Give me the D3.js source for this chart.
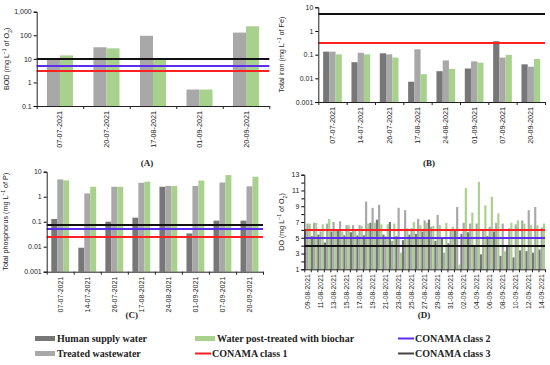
<!DOCTYPE html>
<html>
<head>
<meta charset="utf-8">
<script src="https://cdn.jsdelivr.net/npm/d3@7"></script>
<style>
  body { margin: 0; background: #fff; }
  svg { display: block; }
  .tick text { font-family: "Liberation Sans", Arial, sans-serif; fill: #222; }
</style>
</head>
<body>
<svg id="chart" width="550" height="365"></svg>
<script>
// ---- data ----
var bodDates = ["07-07-2021", "20-07-2021", "17-08-2021", "01-09-2021", "20-09-2021"];
var bodWastewater = [9.6, 31, 95, 0.5, 130];
var bodBiochar = [14, 28, 9.8, 0.5, 240];
var bodLimits = [3, 5, 10]; // class 1, 2, 3

var ironDates = ["07-07-2021", "14-07-2021", "26-07-2021", "17-08-2021", "24-08-2021", "01-09-2021", "07-09-2021", "20-09-2021"];
var ironSupply = [0.134, 0.048, 0.114, 0.0072, 0.020, 0.026, 0.37, 0.039];
var ironWastewater = [0.134, 0.12, 0.103, 0.168, 0.057, 0.052, 0.075, 0.031];
var ironBiochar = [0.103, 0.103, 0.075, 0.015, 0.025, 0.046, 0.098, 0.066];
var ironLimits = [0.3, 0.3, 5];

var phosDates = ["07-07-2021", "14-07-2021", "26-07-2021", "17-08-2021", "24-08-2021", "01-09-2021", "07-09-2021", "20-09-2021"];
var phosSupply = [0.128, 0.0091, 0.1, 0.145, 2.5, 0.034, 0.11, 0.11];
var phosWastewater = [4.9, 1.35, 2.5, 3.6, 2.7, 2.7, 3.7, 2.6];
var phosBiochar = [4.5, 2.5, 2.5, 4.0, 2.7, 4.4, 7.3, 6.3];
var phosLimits = [0.025, 0.05, 0.075];

var doDates = ["09-08-2021", "10-08-2021", "11-08-2021", "12-08-2021", "13-08-2021", "14-08-2021", "15-08-2021",
  "16-08-2021", "17-08-2021", "18-08-2021", "19-08-2021", "20-08-2021", "21-08-2021", "22-08-2021", "23-08-2021",
  "24-08-2021", "25-08-2021", "26-08-2021", "27-08-2021", "28-08-2021", "29-08-2021", "30-08-2021", "31-08-2021",
  "01-09-2021", "02-09-2021", "03-09-2021", "04-09-2021", "05-09-2021", "06-09-2021", "07-09-2021", "08-09-2021",
  "09-09-2021", "10-09-2021", "11-09-2021", "12-09-2021", "13-09-2021", "14-09-2021"];
var doSupply = [5.9, 5.2, 5.4, 4.4, 5.8, 5.9, 5.3, 5.7, 5.3, 5.3, 6.9, 7.3, 5.4, 7.0, 5.2, 4.7, 5.4, 5.5, 5.8,
  7.3, 4.6, 5.0, 4.3, 5.9, 5.5, 5.7, 4.0, 2.9, 5.2, 5.8, 2.7, 4.0, 2.5, 3.4, 3.3, 3.1, 3.5];
var doWastewater = [6.8, 6.9, 5.8, 6.8, 7.0, 7.1, 6.6, 6.6, 6.6, 9.6, 8.8, 9.2, 5.2, 4.6, 8.8, 8.5, 6.2, 7.4, 7.2,
  6.4, 7.9, 3.1, 6.0, 8.9, 6.9, 6.8, 6.8, 6.0, 6.4, 6.9, 6.8, 6.2, 6.7, 7.2, 8.5, 8.9, 6.3];
var doBiochar = [6.8, 6.9, 6.7, 7.4, 5.9, 5.8, 6.6, 6.1, 6.5, 6.8, 6.9, 6.7, 6.7, 6.8, 3.1, 6.2, 7.0, 6.6, 6.9,
  6.5, 6.6, 6.9, 6.4, 1.6, 11.3, 8.2, 12.1, 9.1, 10.2, 8.1, 3.3, 6.9, 7.2, 6.8, 6.6, 6.6, 6.8];
var doLimits = [6, 5, 4];

var colSupply = "#777777", colWaste = "#a8a8a8", colBiochar = "#a9d18e";
var limitColors = ["#ff2020", "#5a2df0", "#111111"];

var svg = d3.select("#chart");

function rows(cats, series) {
  return cats.map(function(c, i) {
    return {cat: c, vals: series.map(function(s) { return {v: s.values[i], color: s.color}; })};
  });
}

function axisTitle(g, x, y, main, unit, sub) {
  // "xxx (mg L-1 of O2)"
  var t = g.append("text")
    .attr("transform", "translate(" + x + "," + y + ") rotate(-90)")
    .attr("text-anchor", "middle")
    .attr("font-family", "Liberation Sans, Arial, sans-serif")
    .attr("font-size", 7.2)
    .attr("fill", "#222");
  t.append("tspan").text(main + " (mg L");
  t.append("tspan").attr("baseline-shift", "super").attr("font-size", 5).text("−1");
  t.append("tspan").text(" of " + unit);
  if (sub) t.append("tspan").attr("baseline-shift", "sub").attr("font-size", 5).text(sub);
  t.append("tspan").text(")");
}

function panel(cfg) {
  var g = svg.append("g");
  var x = d3.scaleBand().domain(cfg.cats).range(cfg.xr)
    .paddingInner(cfg.pad).paddingOuter(cfg.pad / 2);
  var x1 = d3.scaleBand().domain(d3.range(cfg.series.length)).range([0, x.bandwidth()]);
  var y = cfg.log ? d3.scaleLog().domain(cfg.yd).range(cfg.yr) : d3.scaleLinear().domain(cfg.yd).range(cfg.yr);
  var base = cfg.yd[0];

  g.selectAll("g.grp").data(rows(cfg.cats, cfg.series)).join("g")
    .attr("class", "grp")
    .attr("transform", function(d) { return "translate(" + x(d.cat) + ",0)"; })
    .selectAll("rect").data(function(d) { return d.vals; }).join("rect")
    .attr("x", function(d, i) { return x1(i); })
    .attr("width", x1.bandwidth())
    .attr("y", function(d) { return y(d.v); })
    .attr("height", function(d) { return y(base) - y(d.v); })
    .attr("fill", function(d) { return d.color; });

  // limit lines, class 2 then 3 then 1 on top; a class equal to class 1 is hidden under it
  [1, 2, 0].forEach(function(k) {
    if (cfg.limits[k] == null) return;
    if (k > 0 && cfg.limits[k] === cfg.limits[0]) return;
    var ly = Math.round(y(cfg.limits[k]));
    g.append("line")
      .attr("x1", cfg.xr[0]).attr("x2", cfg.xr[1])
      .attr("y1", ly).attr("y2", ly)
      .attr("stroke", limitColors[k]).attr("stroke-width", 2);
  });

  // y axis
  var ya = d3.axisLeft(y).tickSize(3).tickPadding(2).tickValues(cfg.yticks).tickFormat(cfg.yfmt);
  g.append("g").attr("transform", "translate(" + cfg.xr[0] + ",0)").call(ya)
    .call(function(s) { s.selectAll("text").attr("font-size", 7); s.select(".domain").attr("stroke", "#222"); });

  // x axis labels
  var xa = d3.axisBottom(x).tickSize(0).tickFormat(cfg.xfmt || null);
  var xg = g.append("g").attr("transform", "translate(0," + cfg.yr[0] + ")").call(xa);
  xg.select(".domain").attr("stroke", "#222");
  xg.selectAll("text")
    .attr("font-size", cfg.xfs)
    .attr("transform", "rotate(-90)")
    .attr("text-anchor", "end")
    .attr("x", -5).attr("y", 0).attr("dy", "0.35em");

  // boundary ticks between categories
  var xb = d3.scaleLinear().domain([0, cfg.cats.length]).range(cfg.xr);
  g.append("g").attr("transform", "translate(0," + cfg.yr[0] + ")")
    .call(d3.axisBottom(xb).tickValues(d3.range(cfg.cats.length + 1)).tickSize(3).tickFormat(""))
    .call(function(s) { s.select(".domain").remove(); s.selectAll("line").attr("stroke", "#222"); });

  axisTitle(g, cfg.titleX, (cfg.yr[0] + cfg.yr[1]) / 2, cfg.title, cfg.unit, cfg.sub);

  g.append("text")
    .attr("x", cfg.tag[0]).attr("y", cfg.tag[1])
    .attr("text-anchor", "middle")
    .attr("font-family", "Liberation Serif, serif")
    .attr("font-weight", "bold")
    .attr("font-size", 9)
    .attr("fill", "#222")
    .text(cfg.tagText);
}

var decFmt = function(d) { return d3.format(",")(d); };

panel({
  cats: bodDates, xr: [36.7, 269.3], pad: 0.44, log: true, yd: [0.1, 1000], yr: [106, 11.7],
  series: [{values: bodWastewater, color: colWaste}, {values: bodBiochar, color: colBiochar}],
  limits: bodLimits, yticks: [0.1, 1, 10, 100, 1000], yfmt: decFmt, xfs: 7.2,
  titleX: 9, title: "BOD", unit: "O", sub: "2", tag: [147, 166], tagText: "(A)"
});

panel({
  cats: ironDates, xr: [318.3, 545], pad: 0.34, log: true, yd: [0.001, 10], yr: [102, 7.3],
  series: [{values: ironSupply, color: colSupply}, {values: ironWastewater, color: colWaste}, {values: ironBiochar, color: colBiochar}],
  limits: ironLimits, yticks: [0.001, 0.01, 0.1, 1, 10], yfmt: decFmt, xfs: 7.2,
  titleX: 284, title: "Total iron", unit: "Fe", sub: null, tag: [429, 166], tagText: "(B)"
});

panel({
  cats: phosDates, xr: [46.7, 263], pad: 0.34, log: true, yd: [0.001, 10], yr: [271.7, 171.7],
  series: [{values: phosSupply, color: colSupply}, {values: phosWastewater, color: colWaste}, {values: phosBiochar, color: colBiochar}],
  limits: phosLimits, yticks: [0.001, 0.01, 0.1, 1, 10], yfmt: decFmt, xfs: 7,
  titleX: 8, title: "Total phosphorus", unit: "P", sub: null, tag: [131.7, 318], tagText: "(C)"
});

panel({
  cats: doDates, xr: [304.3, 545], pad: 0.0, log: false, yd: [1, 13], yr: [269.3, 174.7],
  series: [{values: doSupply, color: colSupply}, {values: doWastewater, color: colWaste}, {values: doBiochar, color: colBiochar}],
  limits: doLimits, yticks: d3.range(1, 14), yfmt: function(d) { return d % 2 ? d : ""; }, xfs: 6.8,
  xfmt: function(d, i) { return i % 2 === 0 ? d : ""; },
  titleX: 284, title: "DO", unit: "O", sub: "2", tag: [424, 318], tagText: "(D)"
});

// ---- legend ----
var legendItems = [
  {label: "Human supply water", color: colSupply, bar: true, x: 35, y: 338.5},
  {label: "Treated wastewater", color: colWaste, bar: true, x: 35, y: 353.5},
  {label: "Water post-treated with biochar", color: colBiochar, bar: true, x: 195, y: 338.5},
  {label: "CONAMA class 1", color: limitColors[0], bar: false, x: 195, y: 353.5},
  {label: "CONAMA class 2", color: limitColors[1], bar: false, x: 398, y: 338.5},
  {label: "CONAMA class 3", color: "#444", bar: false, x: 398, y: 353.5}
];
var lg = svg.append("g").selectAll("g").data(legendItems).join("g")
  .attr("transform", function(d) { return "translate(" + d.x + "," + d.y + ")"; });
lg.append("rect")
  .attr("x", 0).attr("width", function(d) { return d.bar ? 20 : 16; })
  .attr("y", function(d) { return d.bar ? -2.5 : -1; })
  .attr("height", function(d) { return d.bar ? 5 : 2; })
  .attr("fill", function(d) { return d.color; });
lg.append("text")
  .attr("x", function(d) { return d.bar ? 22 : 17; })
  .attr("dy", "0.35em")
  .attr("font-family", "Liberation Serif, serif")
  .attr("font-weight", "bold")
  .attr("font-size", 10)
  .attr("fill", "#222")
  .text(function(d) { return d.label; });
</script>
</body>
</html>
